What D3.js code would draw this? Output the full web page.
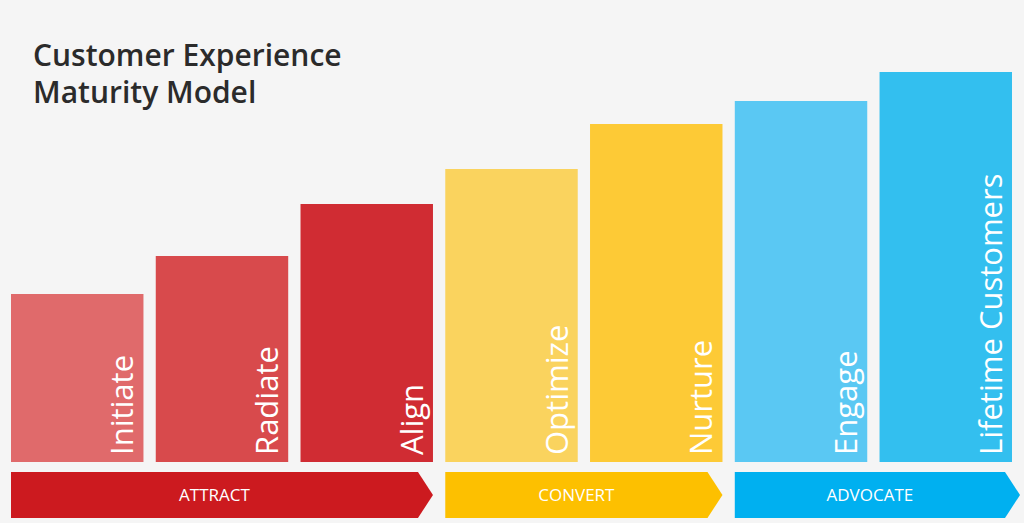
<!DOCTYPE html>
<html><head><meta charset="utf-8">
<script src="https://cdn.jsdelivr.net/npm/d3@7/dist/d3.min.js"></script>
<style>body{margin:0;background:#f5f5f5;}svg{display:block;}</style>
</head><body><svg id="c" width="1024" height="523"></svg>
<script>
const stages = ["Initiate","Radiate","Align","Optimize","Nurture","Engage","Lifetime Customers"];
const heights = [168, 206, 258, 293, 338, 361, 390];
const barColors = ["#e06a6b","#d84a4c","#d02c33","#fad35e","#fdca36","#5ac8f3","#33bfef"];
const phases = ["ATTRACT","CONVERT","ADVOCATE"];
const phaseSpan = [[0,2],[3,4],[5,6]];
const phaseColors = ["#cc1a1f","#fdc000","#00b0f0"];
const titleLines = ["Customer Experience","Maturity Model"];

const svg = d3.select("#c");
svg.append("rect").attr("width",1024).attr("height",523).attr("fill","#f5f5f5");
const x = d3.scaleBand().domain(stages).range([11,1012]).paddingInner(0.085).paddingOuter(0);
const y = d3.scaleLinear().domain([0,400]).range([462,62]);

svg.selectAll(".bar").data(stages).join("rect")
 .attr("x",d=>x(d)).attr("width",x.bandwidth())
 .attr("y",(d,i)=>y(heights[i])).attr("height",(d,i)=>y(0)-y(heights[i]))
 .attr("fill",(d,i)=>barColors[i]);

svg.selectAll(".lbl").data(stages).join("text")
 .attr("transform",d=>`translate(${x(d)+x.bandwidth()-10},455) rotate(-90)`)
 .attr("fill","#fff").attr("font-family","Open Sans, sans-serif").attr("font-size",31)
 .text(d=>d);

phases.forEach((p,i)=>{
  const x0 = x(stages[phaseSpan[i][0]]);
  const x1 = i===2 ? 1020 : x(stages[phaseSpan[i][1]])+x.bandwidth();
  const t=472,b=518,m=(t+b)/2,tip=15;
  svg.append("path").attr("d",`M${x0},${t}L${x1-tip},${t}L${x1},${m}L${x1-tip},${b}L${x0},${b}Z`).attr("fill",phaseColors[i]);
  svg.append("text").attr("x",(x0+x1-tip)/2).attr("y",m+6).attr("text-anchor","middle")
   .attr("fill", i===0?"#fff":"#fff").attr("font-family","Open Sans, sans-serif").attr("font-size",17).text(p);
});

svg.selectAll(".title").data(titleLines).join("text")
 .attr("x",33).attr("y",(d,i)=>66+i*37).attr("font-family","Open Sans, sans-serif")
 .attr("font-size",30).attr("font-weight",600).attr("fill","#2b2b2b").text(d=>d);
</script></body></html>
